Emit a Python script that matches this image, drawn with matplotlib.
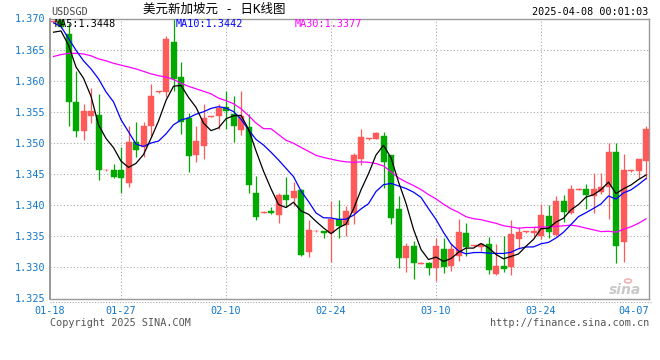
import matplotlib
matplotlib.use("Agg")
import matplotlib.pyplot as plt
import numpy as np
import pandas as pd
from matplotlib.lines import Line2D

# ---------------- data ----------------
dates = pd.date_range("2025-01-18", "2025-04-07", freq="D").strftime("%m-%d").tolist()

opens = [1.3695, 1.3697, 1.3675, 1.3566, 1.3519, 1.3543, 1.3545, 1.3456, 1.3457, 1.3457,
         1.3435, 1.3501, 1.3493, 1.3528, 1.3582, 1.3582, 1.3663, 1.3606, 1.3540, 1.3480,
         1.3495, 1.3542, 1.3543, 1.3557, 1.3547, 1.3521, 1.3526, 1.3420, 1.3388, 1.3390,
         1.3384, 1.3416, 1.3412, 1.3424, 1.3324, 1.3358, 1.3358, 1.3355, 1.3377, 1.3368,
         1.3388, 1.3475, 1.3506, 1.3507, 1.3511, 1.3480, 1.3394, 1.3315, 1.3335, 1.3306,
         1.3307, 1.3299, 1.3330, 1.3303, 1.3319, 1.3355, 1.3334, 1.3333, 1.3337, 1.3289,
         1.3303, 1.3300, 1.3345, 1.3357, 1.3355, 1.3350, 1.3382, 1.3352, 1.3406, 1.3388,
         1.3425, 1.3426, 1.3415, 1.3421, 1.3430, 1.3486, 1.3341, 1.3455, 1.3455, 1.3471]
highs = [1.3698, 1.3701, 1.3692, 1.3615, 1.3563, 1.3588, 1.3579, 1.3458, 1.3466, 1.3493,
         1.3528, 1.3533, 1.3534, 1.3594, 1.3584, 1.3672, 1.3700, 1.3630, 1.3548, 1.3528,
         1.3563, 1.3544, 1.3563, 1.3584, 1.3576, 1.3583, 1.3547, 1.3447, 1.3390, 1.3397,
         1.3420, 1.3445, 1.3437, 1.3426, 1.3376, 1.3360, 1.3359, 1.3407, 1.3408, 1.3399,
         1.3484, 1.3522, 1.3508, 1.3518, 1.3518, 1.3481, 1.3414, 1.3339, 1.3343, 1.3308,
         1.3308, 1.3347, 1.3348, 1.3340, 1.3377, 1.3372, 1.3336, 1.3337, 1.3349, 1.3337,
         1.3351, 1.3376, 1.3365, 1.3359, 1.3367, 1.3402, 1.3400, 1.3415, 1.3416, 1.3432,
         1.3427, 1.3434, 1.3451, 1.3451, 1.3500, 1.3500, 1.3482, 1.3457, 1.3474, 1.3527]
lows = [1.3694, 1.3684, 1.3528, 1.3510, 1.3504, 1.3532, 1.3441, 1.3455, 1.3444, 1.3419,
        1.3429, 1.3478, 1.3477, 1.3509, 1.3581, 1.3574, 1.3584, 1.3515, 1.3453, 1.3469,
        1.3475, 1.3541, 1.3523, 1.3523, 1.3501, 1.3512, 1.3420, 1.3376, 1.3387, 1.3386,
        1.3371, 1.3397, 1.3398, 1.3319, 1.3317, 1.3357, 1.3348, 1.3309, 1.3348, 1.3351,
        1.3370, 1.3464, 1.3505, 1.3506, 1.3428, 1.3370, 1.3299, 1.3293, 1.3281, 1.3305,
        1.3288, 1.3278, 1.3291, 1.3294, 1.3310, 1.3319, 1.3333, 1.3326, 1.3289, 1.3287,
        1.3293, 1.3287, 1.3330, 1.3356, 1.3349, 1.3346, 1.3347, 1.3351, 1.3373, 1.3386,
        1.3424, 1.3394, 1.3388, 1.3418, 1.3377, 1.3307, 1.3308, 1.3454, 1.3443, 1.3442]
closes = [1.3696, 1.3687, 1.3566, 1.3519, 1.3552, 1.3551, 1.3457, 1.3457, 1.3445, 1.3444,
          1.3501, 1.3489, 1.3528, 1.3575, 1.3583, 1.3667, 1.3603, 1.3534, 1.3479, 1.3503,
          1.3540, 1.3543, 1.3556, 1.3552, 1.3528, 1.3543, 1.3432, 1.3381, 1.3389, 1.3387,
          1.3416, 1.3408, 1.3423, 1.3320, 1.3360, 1.3359, 1.3355, 1.3377, 1.3366, 1.3391,
          1.3480, 1.3509, 1.3507, 1.3516, 1.3469, 1.3380, 1.3315, 1.3335, 1.3307, 1.3307,
          1.3299, 1.3335, 1.3300, 1.3330, 1.3357, 1.3333, 1.3335, 1.3337, 1.3296, 1.3303,
          1.3298, 1.3354, 1.3357, 1.3358, 1.3358, 1.3384, 1.3357, 1.3407, 1.3389, 1.3426,
          1.3426, 1.3417, 1.3426, 1.3430, 1.3486, 1.3334, 1.3456, 1.3456, 1.3474, 1.3522]

# moving-average values at the start of the window (they depend on earlier days)
ma5_head = [1.3678, 1.3680, 1.3657, 1.3622]
ma10_head = [1.3693, 1.3687, 1.3668, 1.3649, 1.3632, 1.3619, 1.3603, 1.3582, 1.3566]
ma30_head = [1.3639, 1.3642, 1.3644, 1.3644, 1.3643, 1.3640, 1.3635, 1.3632, 1.3628, 1.3625,
             1.3622, 1.3619, 1.3615, 1.3611, 1.3608, 1.3606, 1.3602, 1.3596, 1.3591, 1.3587,
             1.3583, 1.3579, 1.3572, 1.3568, 1.3563, 1.3555, 1.3544, 1.3532, 1.3523]

# legend values as printed on the chart
ma_names = ["MA5", "MA10", "MA30"]
ma_legend_values = [1.3448, 1.3442, 1.3377]

tick_labels = ["01-18", "01-27", "02-10", "02-24", "03-10", "03-24", "04-07"]
y_ticks = [1.325, 1.330, 1.335, 1.340, 1.345, 1.350, 1.355, 1.360, 1.365, 1.370]

# ---------------- derived ----------------
O = np.array(opens); H = np.array(highs); L = np.array(lows); C = np.array(closes)
n = len(C)
x = np.arange(n)
cs = pd.Series(C)

def ma(win, head):
    r = cs.rolling(win).mean().to_numpy()
    r[:len(head)] = head
    return r

ma5 = ma(5, ma5_head)
ma10 = ma(10, ma10_head)
ma30 = ma(30, ma30_head)

UP = "#ff5a5a"
DN = "#00a800"
BLUE_TXT = "#1177cc"
GRID = "#aaaaaa"
MONO = "DejaVu Sans Mono"
MA_COLORS = ["#000000", "#0000ff", "#ff00ff"]

W, Hpx = 660, 360
fig = plt.figure(figsize=(6.6, 3.6), dpi=100)
fig.patch.set_facecolor("white")

left, right, top, bottom = 50, 649, 18.5, 298.5
ax = fig.add_axes([left / W, 1 - bottom / Hpx, (right - left) / W, (bottom - top) / Hpx])
ax.set_xlim(-0.47, n - 1 + 0.4)
ax.set_ylim(1.325, 1.370)

# grid
for yv in y_ticks[1:-1]:
    ax.axhline(yv, color=GRID, lw=0.8, ls=(0, (1, 2)), zorder=0)
grid_idx = [dates.index(t) for t in tick_labels[1:-1]]
for gi in grid_idx:
    ax.axvline(gi, color=GRID, lw=0.8, ls=(0, (1, 2)), zorder=0)

# candles
up = C >= O
colors = np.where(up, UP, DN)
ax.vlines(x, L, H, colors=colors, lw=0.9, zorder=2)
body_lo = np.minimum(O, C)
body_h = np.maximum(np.abs(C - O), 0.00012)
ax.bar(x, body_h, bottom=body_lo, width=0.8, color=colors, edgecolor=colors,
       linewidth=0.3, zorder=3)

# moving averages
ax.plot(x, ma30, color=MA_COLORS[2], lw=0.9, zorder=4)
ax.plot(x, ma10, color=MA_COLORS[1], lw=0.9, zorder=5)
ax.plot(x, ma5, color=MA_COLORS[0], lw=0.9, zorder=6)

# spines
for s in ax.spines.values():
    s.set_color("#999999")
    s.set_linewidth(1.0)
ax.spines["left"].set_linewidth(1.4)

# y ticks
ax.set_yticks(y_ticks)
ax.set_yticklabels([f"{v:.3f}" for v in y_ticks], fontfamily=MONO, fontsize=7.3, color=BLUE_TXT)
ax.tick_params(axis="y", length=0, pad=3)

# x ticks
xt = [ax.get_xlim()[0]] + grid_idx + [ax.get_xlim()[1]]
ax.set_xticks(xt)
ax.set_xticklabels(tick_labels, fontfamily=MONO, fontsize=7.3, color=BLUE_TXT)
ax.tick_params(axis="x", length=0, pad=5.5)
ax.get_xticklabels()[-1].set_ha("right")

# dotted line below the axis
fig.add_artist(Line2D([left / W, 651 / W], [1 - 301.5 / Hpx, 1 - 301.5 / Hpx],
                      color=GRID, lw=0.8, ls=(0, (1, 1.5))))

def ftext(px, py, s, **kw):
    fig.text(px / W, 1 - py / Hpx, s, va="center", **kw)

# header
ftext(51, 12, "USDSGD", fontfamily=MONO, fontsize=7.3, color="#444444")
ftext(214, 9.5, "美元新加坡元 - 日K线图", ha="center",
      fontfamily=["DejaVu Sans Mono", "Noto Sans CJK SC"], fontsize=9, color="#000000")
ftext(648, 12, "2025-04-08 00:01:03", ha="right", fontfamily=MONO, fontsize=7.3, color="#000000")

# MA legend
for px, name, val, col in zip([55, 176, 295], ma_names, ma_legend_values, MA_COLORS):
    ftext(px, 24, f"{name}:{val:.4f}", fontfamily=MONO, fontsize=7.3, color=col)

# footer
ftext(50, 323.5, "Copyright 2025 SINA.COM", fontfamily=MONO, fontsize=7.3, color="#555555")
ftext(649, 323.5, "http://finance.sina.com.cn", ha="right", fontfamily=MONO, fontsize=7.3,
      color="#555555")

# watermark
ftext(625, 290, "sina", ha="center", fontsize=10, fontstyle="italic", fontweight="bold",
      color="#c8c8c8", family="DejaVu Sans")
fig.add_artist(plt.Circle((628 / W, 1 - 281 / Hpx), 3.5 / W, transform=fig.transFigure,
                          color="#f3b4b4", fill=False, lw=1.2))

fig.savefig("out.png", dpi=100)
